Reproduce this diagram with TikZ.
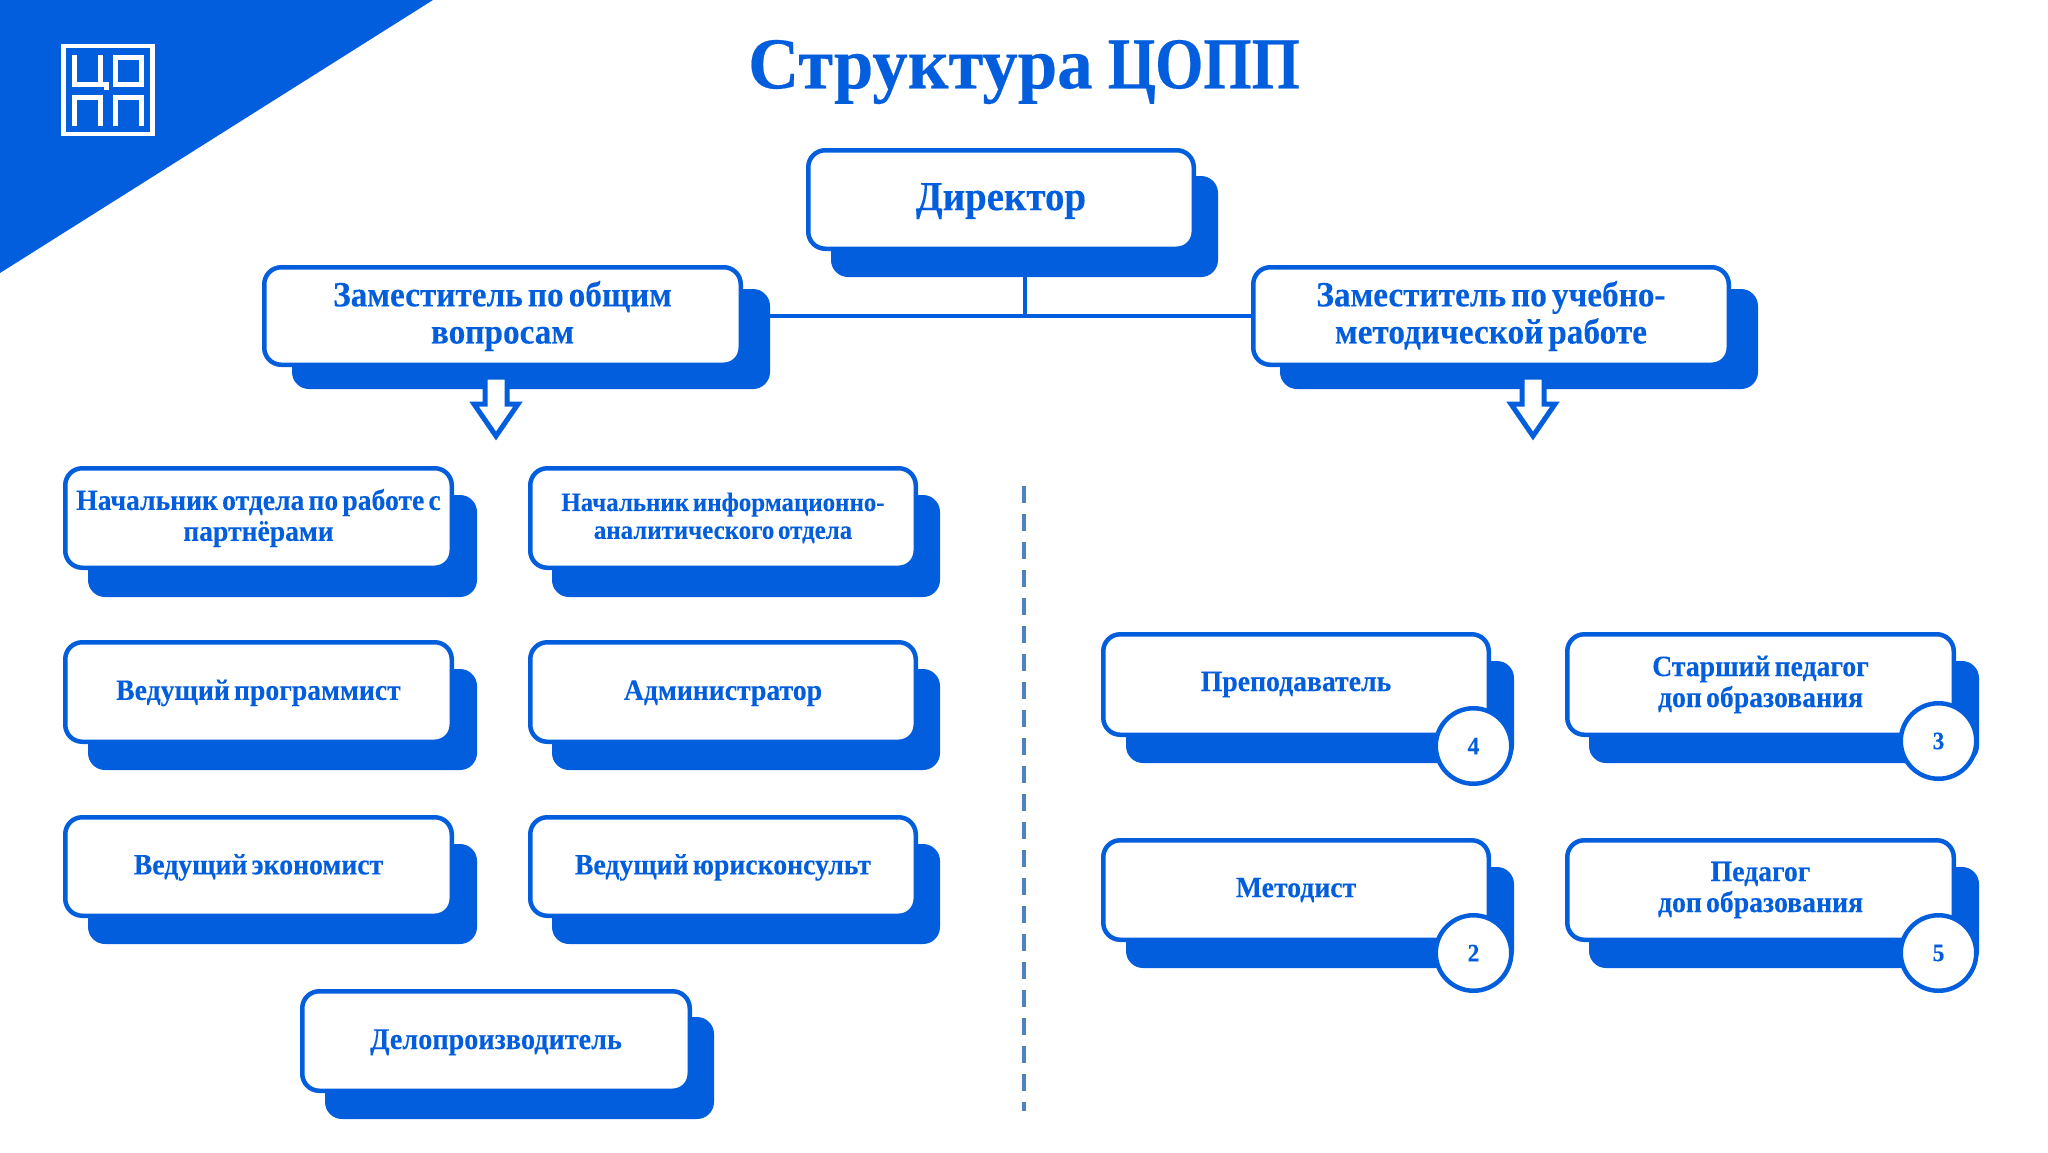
\documentclass[tikz,border=0pt]{standalone}
\usepackage{fontspec}
\setmainfont{Liberation Serif}[BoldFont={Liberation Serif Bold},BoldFeatures={FakeStretch=0.94,WordSpace=0.6,FakeBold=0.15}]
\newfontfamily\titlewide{Liberation Serif Bold}[FakeStretch=0.97,FakeBold=0.3]
\newfontfamily\titlenarrow{Liberation Serif Bold}[FakeStretch=0.85,FakeBold=0.3]
\usetikzlibrary{calc}
\definecolor{brand}{HTML}{025EDC}
\definecolor{dashcol}{HTML}{4F81BD}
\newcommand{\setsz}[1]{\fontsize{#1}{\dimexpr #1pt*105/100\relax}\selectfont}
\newcommand{\cardsize}{30}
\newcommand{\dn}{\rule{0pt}{\dimexpr 0.68em+2pt\relax}}
\tikzset{
 x=1pt,y=-1pt,
 cardbox/.style={draw=brand,line width=4.5pt,fill=white,rounded corners=17pt,inner sep=0pt,align=center,text=brand,font=\bfseries\setsz{\cardsize}},
 cardshadow/.style={fill=brand,rounded corners=17pt,inner sep=0pt},
 badge/.style={circle,draw=brand,line width=4.5pt,fill=white,minimum size=75.5pt,inner sep=0pt,text=brand,font=\bfseries\setsz{25}},
 linkline/.style={draw=brand,line width=4pt},
 blockarrow/.style={draw=brand,line width=5pt,fill=white,miter limit=10},
 logoline/.style={draw=white,line width=5pt},
}
% name, x1,y1,x2,y2 (outer card), sx1,sy1,sx2,sy2 (shadow), text
\newcommand{\card}[9]{%
 \node[cardshadow,minimum width={#8-#6},minimum height={#9-#7}] (#1s) at ({(#6+#8)/2},{(#7+#9)/2}) {};
 \cardtext{#1}{#2}{#3}{#4}{#5}}
\newcommand{\cardtext}[6]{%
 \node[cardbox,minimum width={#4-#2-4.5},minimum height={#5-#3-4.5}] (#1) at ({(#2+#4)/2},{(#3+#5)/2}) {#6};}
\begin{document}
\begin{tikzpicture}
\useasboundingbox (0,0) rectangle (2048,1152);
\fill[brand] (0,0) -- (433,0) -- (0,273) -- cycle;
% logo
\draw[white,line width=4.4pt] (63.5,45.9) rectangle (152.5,134.1);
\draw[logoline] (74,55) -- (74,84) -- (109.3,84);
\draw[logoline] (100.7,55) -- (100.7,84);
\draw[logoline] (106.7,84) -- (106.7,90);
\draw[logoline] (115,57.5) rectangle (141.7,84);
\draw[logoline] (74,125.7) -- (74,97) -- (100.7,97) -- (100.7,125.7);
\draw[logoline] (115,125.7) -- (115,97) -- (141.7,97) -- (141.7,125.7);
% title
\node[text=brand,font=\setsz{73},inner sep=0pt] (title) at (1024,72) {{\titlewide Структура}\hspace{15pt}{\titlenarrow ЦОПП}};
% cards
\renewcommand{\cardsize}{41.4}
\card{dir}{806}{148}{1196}{251}{831}{176}{1218}{277}{\dn Директор}
\renewcommand{\cardsize}{35.4}
\card{depL}{262}{265}{743}{367}{292}{289}{770}{389}{Заместитель по общим\\вопросам}
\card{depR}{1251}{265}{1731}{367}{1280}{289}{1758}{389}{Заместитель по учебно-\\методической работе}
% connectors
\draw[linkline] (dirs.south) -- (dirs.south |- depL.center);
\draw[linkline] (depLs.east |- depL.center) -- (depR.west);
% block arrows
\foreach \ax/\an in {496/arrL,1533/arrR}{
 \coordinate (\an) at (\ax,377);
 \draw[blockarrow] (\an) ++(-11,0) -- ++(0,27) -- ++(-11,0) -- ++(22,32) -- ++(22,-32) -- ++(-11,0) -- ++(0,-27) -- cycle;
}
% left group
\renewcommand{\cardsize}{29.4}
\card{a1}{63}{466}{454}{570}{88}{495}{477}{597}{Начальник отдела по работе с\\партнёрами}
\renewcommand{\cardsize}{26.5}
\card{a2}{528}{466}{918}{570}{552}{495}{940}{597}{Начальник информационно-\\аналитического отдела}
\renewcommand{\cardsize}{29.5}
\card{b1}{63}{640}{454}{744}{88}{669}{477}{770}{\dn Ведущий программист}
\card{b2}{528}{640}{918}{744}{552}{669}{940}{770}{\dn Администратор}
\card{c1}{63}{815}{454}{918}{88}{844}{477}{944}{\dn Ведущий экономист}
\card{c2}{528}{815}{918}{918}{552}{844}{940}{944}{\dn Ведущий юрисконсульт}
\renewcommand{\cardsize}{30}
\card{d1}{300}{989}{692}{1093}{325}{1017}{714}{1119}{\dn Делопроизводитель}
% divider
\coordinate (divT) at (1024,486);
\coordinate (divB) at (1024,1111);
\draw[dashcol,line width=4pt,dash pattern=on 17pt off 11pt] (divT) -- (divB);
% right group
\renewcommand{\cardsize}{29.5}
\card{e1}{1101}{632}{1491}{737}{1126}{661}{1514}{763}{Преподаватель}
\card{e2}{1565}{632}{1956}{737}{1589}{661}{1979}{763}{Старший педагог\\доп образования}
\card{f1}{1101}{838}{1491}{942}{1126}{867}{1514}{968}{Методист}
\card{f2}{1565}{838}{1956}{942}{1589}{867}{1979}{968}{Педагог\\доп образования}
\node[badge] (n4) at (1473.5,746) {4};
\node[badge] (n3) at (1938.5,741) {3};
\node[badge] (n2) at (1473.5,953) {2};
\node[badge] (n5) at (1938.5,953) {5};
\end{tikzpicture}
\end{document}
